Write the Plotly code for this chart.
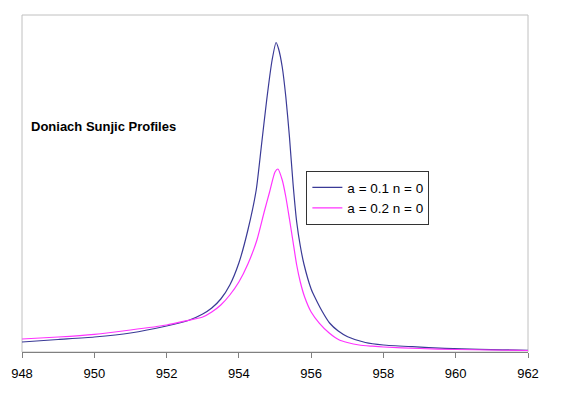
import plotly.graph_objects as go

# Data (arbitrary intensity units)
x_a01 = [948.0, 949.0, 950.0, 951.0, 952.0, 952.6, 953.0, 953.25, 953.5, 953.75,
         954.0, 954.25, 954.48, 954.62, 954.77, 954.92, 955.03, 955.1,
         955.2, 955.3, 955.4, 955.5, 955.6, 955.7, 955.8, 956.0, 956.1, 956.3,
         956.51, 956.75, 957.01, 957.5, 958.0, 958.8, 959.7, 960.65, 961.3, 962.0]
y_a01 = [10, 12.5, 15, 19, 26, 31.5, 38, 44, 53, 67,
         89, 122, 162, 205, 252, 292, 309.5, 303,
         285, 255, 215, 168, 130, 106, 88, 63, 55, 41,
         29, 21, 15.3, 9.5, 7, 5.3, 3.7, 2.7, 2.2, 1.7]

x_a02 = [948.0, 949.0, 950.0, 951.0, 952.0, 952.6, 953.0, 953.25, 953.5, 953.75,
         954.0, 954.25, 954.5, 954.7, 954.85, 955.0, 955.08, 955.2, 955.3,
         955.4, 955.5, 955.6, 955.7, 955.82, 956.0, 956.23, 956.5, 956.78,
         957.0, 957.33, 957.7, 958.0, 959.0, 960.0, 961.0, 962.0]
y_a02 = [13, 15, 17.7, 22, 27, 31.7, 35, 40, 47, 57,
         70, 88, 112, 140, 160, 180, 183, 172, 155,
         133, 110, 87, 70, 55, 40, 28.7, 19, 12,
         9.5, 7, 5.8, 5, 3.5, 2.5, 2, 1.5]

names = ["a = 0.1 n = 0", "a = 0.2 n = 0"]
colors = ["#3a3a96", "#ff33ff"]
x_ticks = [948, 950, 952, 954, 956, 958, 960, 962]

fig = go.Figure()
for xs, ys, nm, c in [(x_a01, y_a01, names[0], colors[0]), (x_a02, y_a02, names[1], colors[1])]:
    fig.add_trace(go.Scatter(x=xs, y=ys, mode="lines", name=nm,
                             line=dict(color=c, width=1.2, shape="spline", smoothing=0.6)))

fig.update_layout(
    width=576, height=394,
    margin=dict(l=22, r=48, t=15, b=42),
    paper_bgcolor="white", plot_bgcolor="white",
    font=dict(family="Arial, Liberation Sans, sans-serif", size=13, color="black"),
    showlegend=True,
    legend=dict(x=0.562, y=0.537, xanchor="left", yanchor="top",
                bordercolor="#333333", borderwidth=1, bgcolor="white",
                font=dict(size=13.5), itemwidth=30, tracegroupgap=0),
    xaxis=dict(range=[948, 962], tickvals=x_ticks, showgrid=False, zeroline=False,
               showline=True, linecolor="#808080", linewidth=1,
               ticks="outside", ticklen=5, tickcolor="#808080",
               ticklabelstandoff=4,
               tickfont=dict(size=13, color="black")),
    yaxis=dict(range=[0, 337], visible=False, showgrid=False, zeroline=False),
    shapes=[dict(type="rect", xref="paper", yref="paper", x0=0, x1=1, y0=0, y1=1,
                 line=dict(color="#c0c0c0", width=1), layer="below")],
    annotations=[dict(text="<b>Doniach Sunjic Profiles</b>", xref="paper", yref="paper",
                      x=0.014, y=0.668, xanchor="left", yanchor="middle", showarrow=False,
                      font=dict(size=13, color="black"))],
)

fig.write_html("out.html")
